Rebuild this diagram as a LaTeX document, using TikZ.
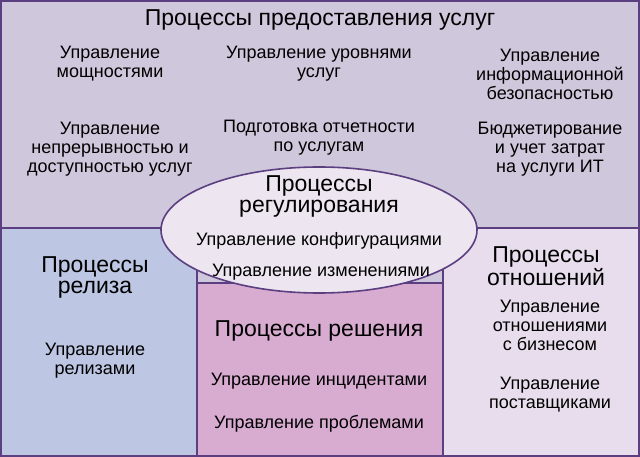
\documentclass[tikz,border=0pt]{standalone}
\usepackage{fontspec}
\setmainfont{Liberation Sans}
\begin{document}
\begin{tikzpicture}[x=1pt,y=-1pt,
  bd/.style={draw=bordc,line width=1.6pt},
  itm/.style={align=center,font=\fontsize{18}{19}\selectfont,inner sep=0pt},
  ttl/.style={align=center,font=\fontsize{23}{21}\selectfont,inner sep=0pt}]
\definecolor{bordc}{HTML}{5B3F80}
\definecolor{topc}{HTML}{CFC7DC}
\definecolor{leftc}{HTML}{BDC6E2}
\definecolor{midc}{HTML}{D8ABD1}
\definecolor{rightc}{HTML}{E7DDEC}
\definecolor{ellc}{HTML}{EDE5F0}
\useasboundingbox (0,0) rectangle (640,457);
\fill[topc] (197,228) rectangle (443,283);
\path[bd,fill=topc] (1,1) rectangle (639,228);
\path[bd,fill=leftc] (1,228) rectangle (197,456);
\path[bd,fill=rightc] (443,228) rectangle (639,456);
\path[bd,fill=midc] (197,283) rectangle (443,456);
\path[bd,fill=ellc] (319,230) ellipse [x radius=158,y radius=63];
\node[ttl] (t) at (320,20) {Процессы предоставления услуг};
\node[itm] (a1) at (110,64) {Управление\\мощностями};
\node[itm] (a2) at (319,64) {Управление уровнями\\услуг};
\node[itm] (a3) at (550,74) {Управление\\информационной\\безопасностью};
\node[itm] (b1) at (110,149) {Управление\\непрерывностью и\\доступностью услуг};
\node[itm] (b2) at (319,138) {Подготовка отчетности\\по услугам};
\node[itm] (b3) at (550,149) {Бюджетирование\\и учет затрат\\на услуги ИТ};
\node[ttl] (e) at (319,196) {Процессы\\регулирования};
\node[itm] (e1) at (319,241) {Управление конфигурациями};
\node[itm] (e2) at (321,272) {Управление изменениями};
\node[ttl] (l) at (95,277) {Процессы\\релиза};
\node[itm] (l1) at (95,361) {Управление\\релизами};
\node[ttl] (m) at (319,331) {Процессы решения};
\node[itm] (m1) at (319,381) {Управление инцидентами};
\node[itm] (m2) at (319,424) {Управление проблемами};
\node[ttl] (r) at (546,266) {Процессы\\отношений};
\node[itm] (r1) at (550,325) {Управление\\отношениями\\с бизнесом};
\node[itm] (r2) at (550,395) {Управление\\поставщиками};
\end{tikzpicture}
\end{document}
